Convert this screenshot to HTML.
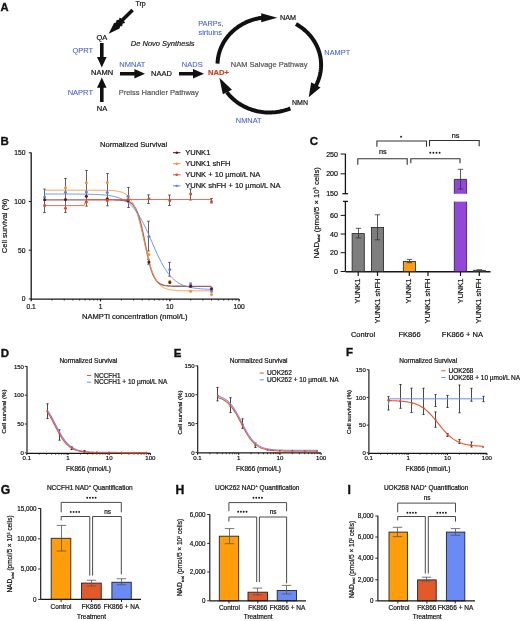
<!DOCTYPE html>
<html><head><meta charset="utf-8"><style>
html,body{margin:0;padding:0;background:#fff;}
svg{display:block;will-change:transform;}
text{font-family:"Liberation Sans", sans-serif;stroke:currentColor;stroke-width:0.2px;}
</style></head><body>
<svg width="520" height="621" viewBox="0 0 520 621">
<rect width="520" height="621" fill="#fff"/>
<text x="0.4" y="10.9" font-size="11.2" fill="#111" color="#111" font-weight="bold" style="stroke-width:0.35px">A</text>
<text x="135.4" y="6.4" font-size="7.0" fill="#111" color="#111">Trp</text>
<polygon points="133.87,11.17 123.97,21.07 125.1,22.91 122.7,23.48 122.21,26.09 120.01,26.45 119.59,28.43 108.63,33.87 114.07,22.91 116.05,22.49 116.41,20.29 119.02,19.8 119.59,17.4 121.43,18.53 131.33,8.63" fill="#111"/>
<text x="96.4" y="39.9" font-size="7.5" fill="#111" color="#111">QA</text>
<text x="72.4" y="52.5" font-size="7.5" fill="#4660c0" color="#4660c0" style="stroke-width:0.06px">QPRT</text>
<polygon points="100,42.9 103.6,42.9 103.6,57 106.6,57 101.8,67.6 97,57 100,57" fill="#111"/>
<text x="91" y="75.1" font-size="7.5" fill="#111" color="#111">NAMN</text>
<polygon points="100,101.9 103.6,101.9 103.6,87.8 106.6,87.8 101.8,77.4 97,87.8 100,87.8" fill="#111"/>
<text x="67.7" y="95.3" font-size="7.5" fill="#4660c0" color="#4660c0" style="stroke-width:0.06px">NAPRT</text>
<text x="96.8" y="110.9" font-size="7.5" fill="#111" color="#111">NA</text>
<polygon points="120,71.9 134.4,71.9 134.4,69 145,73.75 134.4,78.5 134.4,75.6 120,75.6" fill="#111"/>
<text x="119.3" y="66.7" font-size="7.5" fill="#4660c0" color="#4660c0" style="stroke-width:0.06px">NMNAT</text>
<text x="151" y="76.3" font-size="7.5" fill="#111" color="#111">NAAD</text>
<polygon points="179,71.9 193,71.9 193,69 204,73.75 193,78.5 193,75.6 179,75.6" fill="#111"/>
<text x="181.8" y="66.7" font-size="7.5" fill="#4660c0" color="#4660c0" style="stroke-width:0.06px">NADS</text>
<text x="208" y="75.4" font-size="7.6" fill="#d8401e" color="#d8401e" font-weight="bold">NAD+</text>
<text x="130.8" y="45.7" font-size="7.5" fill="#222" color="#222" font-style="italic">De Novo Synthesis</text>
<text x="198.2" y="25.9" font-size="7.4" fill="#4660c0" color="#4660c0" style="stroke-width:0.06px">PARPs,</text>
<text x="198.5" y="35.2" font-size="7.4" fill="#4660c0" color="#4660c0" style="stroke-width:0.06px">sirtuins</text>
<text x="230.8" y="66.9" font-size="7.5" fill="#555" color="#555">NAM Salvage Pathway</text>
<text x="118.7" y="95.4" font-size="7.5" fill="#555" color="#555">Preiss Handler Pathway</text>
<text x="280" y="20.3" font-size="7.2" fill="#111" color="#111">NAM</text>
<text x="324.3" y="55.1" font-size="7.4" fill="#4660c0" color="#4660c0" style="stroke-width:0.06px">NAMPT</text>
<text x="292" y="105.1" font-size="7.0" fill="#111" color="#111">NMN</text>
<text x="235.8" y="122.7" font-size="7.4" fill="#4660c0" color="#4660c0" style="stroke-width:0.06px">NMNAT</text>
<path d="M217.52,63.65 L217.6,61.98 L217.74,60.32 L217.95,58.66 L218.22,57 L218.55,55.36 L218.95,53.73 L219.41,52.11 L219.92,50.51 L220.51,48.92 L221.15,47.36 L221.85,45.81 L222.6,44.3 L223.42,42.8 L224.29,41.33 L225.22,39.9 L226.2,38.49 L227.24,37.12 L228.33,35.77 L229.47,34.47 L230.65,33.2 L231.89,31.98 L233.17,30.79 L234.5,29.64 L235.87,28.54 L237.28,27.49 L238.72,26.48 L240.21,25.51 L241.74,24.6 L243.29,23.73 L244.88,22.92 L246.5,22.16 L248.15,21.45 L249.82,20.79 L251.52,20.19 L253.24,19.65 L254.98,19.16 L256.74,18.72 L258.51,18.34 L260.29,18.02 L262.09,17.76" stroke="#111" stroke-width="4.0" fill="none" stroke-linejoin="round"/>
<polygon points="261.2,13.3 277.3,17.7 261.2,22.3" fill="#111"/>
<path d="M295.98,24.1 L297.63,25.05 L299.23,26.05 L300.8,27.11 L302.32,28.22 L303.79,29.39 L305.22,30.6 L306.59,31.86 L307.92,33.17 L309.18,34.53 L310.4,35.92 L311.55,37.36 L312.64,38.84 L313.68,40.35 L314.65,41.9 L315.56,43.48 L316.4,45.09 L317.17,46.72 L317.88,48.39 L318.52,50.07 L319.09,51.78 L319.59,53.51 L320.02,55.25 L320.38,57 L320.67,58.77 L320.88,60.54 L321.02,62.33 L321.09,64.11 L321.09,65.9 L321.01,67.68 L320.86,69.46 L320.64,71.24 L320.34,73 L319.98,74.76 L319.54,76.5 L319.03,78.22 L318.45,79.92 L317.8,81.61 L317.09,83.27 L316.3,84.9 L315.45,86.51" stroke="#111" stroke-width="4.0" fill="none" stroke-linejoin="round"/>
<polygon points="311.2,82.3 308.7,97.2 320.5,87.5" fill="#111"/>
<path d="M290.37,108.38 L288.73,109.03 L287.06,109.62 L285.37,110.15 L283.66,110.63 L281.94,111.06 L280.2,111.43 L278.45,111.75 L276.69,112.01 L274.92,112.22 L273.14,112.37 L271.36,112.46 L269.57,112.5 L267.79,112.48 L266,112.4 L264.22,112.27 L262.45,112.08 L260.68,111.84 L258.93,111.54 L257.19,111.18 L255.46,110.77 L253.74,110.3 L252.05,109.78 L250.38,109.21 L248.73,108.59 L247.1,107.91 L245.5,107.18 L243.93,106.4 L242.39,105.57 L240.88,104.7 L239.4,103.77 L237.96,102.8 L236.56,101.79 L235.2,100.73 L233.87,99.63 L232.59,98.48 L231.35,97.3 L230.16,96.08 L229.02,94.82 L227.92,93.53 L226.87,92.2" stroke="#111" stroke-width="4.0" fill="none" stroke-linejoin="round"/>
<polygon points="222.8,94.2 219.4,77.7 232,89.8" fill="#111"/>
<text x="0.6" y="145.4" font-size="11.5" fill="#111" color="#111" font-weight="bold" style="stroke-width:0.35px">B</text>
<text x="100" y="147.3" font-size="7.55" fill="#111" color="#111">Normalized Survival</text>
<line x1="31.2" y1="152.5" x2="31.2" y2="298.9" stroke="#161616" stroke-width="1.3"/>
<line x1="28.8" y1="298.9" x2="31.2" y2="298.9" stroke="#161616" stroke-width="1.0"/>
<text x="25.4" y="301.3" font-size="6.7" fill="#111" color="#111" text-anchor="end">0</text>
<line x1="28.8" y1="250.2" x2="31.2" y2="250.2" stroke="#161616" stroke-width="1.0"/>
<text x="25.4" y="252.6" font-size="6.7" fill="#111" color="#111" text-anchor="end">50</text>
<line x1="28.8" y1="201.5" x2="31.2" y2="201.5" stroke="#161616" stroke-width="1.0"/>
<text x="25.4" y="203.9" font-size="6.7" fill="#111" color="#111" text-anchor="end">100</text>
<line x1="28.8" y1="152.8" x2="31.2" y2="152.8" stroke="#161616" stroke-width="1.0"/>
<text x="25.4" y="155.2" font-size="6.7" fill="#111" color="#111" text-anchor="end">150</text>
<line x1="31.2" y1="299.1" x2="239.1" y2="299.1" stroke="#161616" stroke-width="1.3"/>
<line x1="31.2" y1="299.1" x2="31.2" y2="301.3" stroke="#161616" stroke-width="1.3"/>
<line x1="52.06" y1="299.1" x2="52.06" y2="300.5" stroke="#161616" stroke-width="0.9"/>
<line x1="64.26" y1="299.1" x2="64.26" y2="300.5" stroke="#161616" stroke-width="0.9"/>
<line x1="72.92" y1="299.1" x2="72.92" y2="300.5" stroke="#161616" stroke-width="0.9"/>
<line x1="79.64" y1="299.1" x2="79.64" y2="300.5" stroke="#161616" stroke-width="0.9"/>
<line x1="85.13" y1="299.1" x2="85.13" y2="300.5" stroke="#161616" stroke-width="0.9"/>
<line x1="89.77" y1="299.1" x2="89.77" y2="300.5" stroke="#161616" stroke-width="0.9"/>
<line x1="93.78" y1="299.1" x2="93.78" y2="300.5" stroke="#161616" stroke-width="0.9"/>
<line x1="97.33" y1="299.1" x2="97.33" y2="300.5" stroke="#161616" stroke-width="0.9"/>
<line x1="100.5" y1="299.1" x2="100.5" y2="301.3" stroke="#161616" stroke-width="1.3"/>
<line x1="121.36" y1="299.1" x2="121.36" y2="300.5" stroke="#161616" stroke-width="0.9"/>
<line x1="133.56" y1="299.1" x2="133.56" y2="300.5" stroke="#161616" stroke-width="0.9"/>
<line x1="142.22" y1="299.1" x2="142.22" y2="300.5" stroke="#161616" stroke-width="0.9"/>
<line x1="148.94" y1="299.1" x2="148.94" y2="300.5" stroke="#161616" stroke-width="0.9"/>
<line x1="154.43" y1="299.1" x2="154.43" y2="300.5" stroke="#161616" stroke-width="0.9"/>
<line x1="159.07" y1="299.1" x2="159.07" y2="300.5" stroke="#161616" stroke-width="0.9"/>
<line x1="163.08" y1="299.1" x2="163.08" y2="300.5" stroke="#161616" stroke-width="0.9"/>
<line x1="166.63" y1="299.1" x2="166.63" y2="300.5" stroke="#161616" stroke-width="0.9"/>
<line x1="169.8" y1="299.1" x2="169.8" y2="301.3" stroke="#161616" stroke-width="1.3"/>
<line x1="190.66" y1="299.1" x2="190.66" y2="300.5" stroke="#161616" stroke-width="0.9"/>
<line x1="202.86" y1="299.1" x2="202.86" y2="300.5" stroke="#161616" stroke-width="0.9"/>
<line x1="211.52" y1="299.1" x2="211.52" y2="300.5" stroke="#161616" stroke-width="0.9"/>
<line x1="218.24" y1="299.1" x2="218.24" y2="300.5" stroke="#161616" stroke-width="0.9"/>
<line x1="223.73" y1="299.1" x2="223.73" y2="300.5" stroke="#161616" stroke-width="0.9"/>
<line x1="228.37" y1="299.1" x2="228.37" y2="300.5" stroke="#161616" stroke-width="0.9"/>
<line x1="232.38" y1="299.1" x2="232.38" y2="300.5" stroke="#161616" stroke-width="0.9"/>
<line x1="235.93" y1="299.1" x2="235.93" y2="300.5" stroke="#161616" stroke-width="0.9"/>
<line x1="239.1" y1="299.1" x2="239.1" y2="301.3" stroke="#161616" stroke-width="1.3"/>
<text x="31.2" y="308.6" font-size="6.7" fill="#111" color="#111" text-anchor="middle">0.1</text>
<text x="100.5" y="308.6" font-size="6.7" fill="#111" color="#111" text-anchor="middle">1</text>
<text x="169.8" y="308.6" font-size="6.7" fill="#111" color="#111" text-anchor="middle">10</text>
<text x="239.1" y="308.6" font-size="6.7" fill="#111" color="#111" text-anchor="middle">100</text>
<text x="134.8" y="319.2" font-size="7.6" fill="#111" color="#111" text-anchor="middle">NAMPTi concentration (nmol/L)</text>
<text transform="translate(7.2,225.9) rotate(-90)" font-size="7.55" fill="#111" color="#111" text-anchor="middle">Cell survival (%)</text>
<line x1="173" y1="152.7" x2="180.4" y2="152.7" stroke="#5a1414" stroke-width="1.0"/>
<circle cx="176.7" cy="152.7" r="1.2" fill="#5a1414"/>
<text x="185.2" y="155.2" font-size="7.55" fill="#111" color="#111">YUNK1</text>
<line x1="173" y1="163.75" x2="180.4" y2="163.75" stroke="#f39227" stroke-width="1.0"/>
<circle cx="176.7" cy="163.75" r="1.2" fill="#f39227"/>
<text x="185.2" y="166.25" font-size="7.55" fill="#111" color="#111">YUNK1 shFH</text>
<line x1="173" y1="174.8" x2="180.4" y2="174.8" stroke="#e4482a" stroke-width="1.0"/>
<circle cx="176.7" cy="174.8" r="1.2" fill="#e4482a"/>
<text x="185.2" y="177.3" font-size="7.55" fill="#111" color="#111">YUNK + 10 µmol/L NA</text>
<line x1="173" y1="185.85" x2="180.4" y2="185.85" stroke="#5b7ff0" stroke-width="1.0"/>
<circle cx="176.7" cy="185.85" r="1.2" fill="#5b7ff0"/>
<text x="185.2" y="188.35" font-size="7.55" fill="#111" color="#111">YUNK shFH + 10 µmol/L NA</text>
<line x1="44.5" y1="189.1" x2="44.5" y2="212.5" stroke="#3a3a3a" stroke-width="0.8"/>
<line x1="43.2" y1="189.1" x2="45.8" y2="189.1" stroke="#3a3a3a" stroke-width="0.8"/>
<line x1="43.2" y1="212.5" x2="45.8" y2="212.5" stroke="#3a3a3a" stroke-width="0.8"/>
<line x1="65.5" y1="178.5" x2="65.5" y2="212.5" stroke="#3a3a3a" stroke-width="0.8"/>
<line x1="64.2" y1="178.5" x2="66.8" y2="178.5" stroke="#3a3a3a" stroke-width="0.8"/>
<line x1="64.2" y1="212.5" x2="66.8" y2="212.5" stroke="#3a3a3a" stroke-width="0.8"/>
<line x1="86.5" y1="170.5" x2="86.5" y2="206.1" stroke="#3a3a3a" stroke-width="0.8"/>
<line x1="85.2" y1="170.5" x2="87.8" y2="170.5" stroke="#3a3a3a" stroke-width="0.8"/>
<line x1="85.2" y1="206.1" x2="87.8" y2="206.1" stroke="#3a3a3a" stroke-width="0.8"/>
<line x1="107.5" y1="173.5" x2="107.5" y2="205.8" stroke="#3a3a3a" stroke-width="0.8"/>
<line x1="106.2" y1="173.5" x2="108.8" y2="173.5" stroke="#3a3a3a" stroke-width="0.8"/>
<line x1="106.2" y1="205.8" x2="108.8" y2="205.8" stroke="#3a3a3a" stroke-width="0.8"/>
<line x1="128.5" y1="187.5" x2="128.5" y2="207.5" stroke="#3a3a3a" stroke-width="0.8"/>
<line x1="127.2" y1="187.5" x2="129.8" y2="187.5" stroke="#3a3a3a" stroke-width="0.8"/>
<line x1="127.2" y1="207.5" x2="129.8" y2="207.5" stroke="#3a3a3a" stroke-width="0.8"/>
<line x1="148.5" y1="194.8" x2="148.5" y2="203.5" stroke="#3a3a3a" stroke-width="0.8"/>
<line x1="147.2" y1="194.8" x2="149.8" y2="194.8" stroke="#3a3a3a" stroke-width="0.8"/>
<line x1="147.2" y1="203.5" x2="149.8" y2="203.5" stroke="#3a3a3a" stroke-width="0.8"/>
<line x1="169.5" y1="195" x2="169.5" y2="205.5" stroke="#3a3a3a" stroke-width="0.8"/>
<line x1="168.2" y1="195" x2="170.8" y2="195" stroke="#3a3a3a" stroke-width="0.8"/>
<line x1="168.2" y1="205.5" x2="170.8" y2="205.5" stroke="#3a3a3a" stroke-width="0.8"/>
<line x1="190.5" y1="189" x2="190.5" y2="200" stroke="#3a3a3a" stroke-width="0.8"/>
<line x1="189.2" y1="189" x2="191.8" y2="189" stroke="#3a3a3a" stroke-width="0.8"/>
<line x1="189.2" y1="200" x2="191.8" y2="200" stroke="#3a3a3a" stroke-width="0.8"/>
<line x1="211.5" y1="198.5" x2="211.5" y2="203" stroke="#3a3a3a" stroke-width="0.8"/>
<line x1="210.2" y1="198.5" x2="212.8" y2="198.5" stroke="#3a3a3a" stroke-width="0.8"/>
<line x1="210.2" y1="203" x2="212.8" y2="203" stroke="#3a3a3a" stroke-width="0.8"/>
<line x1="148.5" y1="221.2" x2="148.5" y2="251" stroke="#3a3a3a" stroke-width="0.8"/>
<line x1="147.2" y1="221.2" x2="149.8" y2="221.2" stroke="#3a3a3a" stroke-width="0.8"/>
<line x1="147.2" y1="251" x2="149.8" y2="251" stroke="#3a3a3a" stroke-width="0.8"/>
<line x1="148.5" y1="259.4" x2="148.5" y2="264.2" stroke="#3a3a3a" stroke-width="0.8"/>
<line x1="147.2" y1="259.4" x2="149.8" y2="259.4" stroke="#3a3a3a" stroke-width="0.8"/>
<line x1="147.2" y1="264.2" x2="149.8" y2="264.2" stroke="#3a3a3a" stroke-width="0.8"/>
<line x1="169.5" y1="262.3" x2="169.5" y2="276.2" stroke="#3a3a3a" stroke-width="0.8"/>
<line x1="168.2" y1="262.3" x2="170.8" y2="262.3" stroke="#3a3a3a" stroke-width="0.8"/>
<line x1="168.2" y1="276.2" x2="170.8" y2="276.2" stroke="#3a3a3a" stroke-width="0.8"/>
<line x1="190.5" y1="283" x2="190.5" y2="287" stroke="#3a3a3a" stroke-width="0.8"/>
<line x1="189.2" y1="283" x2="191.8" y2="283" stroke="#3a3a3a" stroke-width="0.8"/>
<line x1="189.2" y1="287" x2="191.8" y2="287" stroke="#3a3a3a" stroke-width="0.8"/>
<line x1="211.5" y1="288" x2="211.5" y2="292" stroke="#3a3a3a" stroke-width="0.8"/>
<line x1="210.2" y1="288" x2="212.8" y2="288" stroke="#3a3a3a" stroke-width="0.8"/>
<line x1="210.2" y1="292" x2="212.8" y2="292" stroke="#3a3a3a" stroke-width="0.8"/>
<path d="M44.63,199.84 L46.02,199.84 L47.41,199.84 L48.8,199.84 L50.19,199.84 L51.59,199.84 L52.98,199.84 L54.37,199.84 L55.76,199.84 L57.15,199.84 L58.54,199.84 L59.93,199.84 L61.32,199.84 L62.71,199.84 L64.1,199.84 L65.49,199.84 L66.88,199.84 L68.27,199.84 L69.67,199.84 L71.06,199.84 L72.45,199.84 L73.84,199.84 L75.23,199.84 L76.62,199.84 L78.01,199.84 L79.4,199.84 L80.79,199.84 L82.18,199.84 L83.57,199.84 L84.96,199.84 L86.35,199.84 L87.75,199.84 L89.14,199.84 L90.53,199.84 L91.92,199.84 L93.31,199.84 L94.7,199.84 L96.09,199.85 L97.48,199.85 L98.87,199.85 L100.26,199.85 L101.65,199.85 L103.04,199.85 L104.43,199.85 L105.83,199.85 L107.22,199.86 L108.61,199.86 L110,199.87 L111.39,199.88 L112.78,199.89 L114.17,199.91 L115.56,199.94 L116.95,199.97 L118.34,200.02 L119.73,200.08 L121.12,200.18 L122.51,200.3 L123.9,200.48 L125.3,200.72 L126.69,201.04 L128.08,201.49 L129.47,202.11 L130.86,202.94 L132.25,204.06 L133.64,205.57 L135.03,207.56 L136.42,210.15 L137.81,213.47 L139.2,217.6 L140.59,222.6 L141.98,228.42 L143.38,234.91 L144.77,241.8 L146.16,248.76 L147.55,255.44 L148.94,261.53 L150.33,266.84 L151.72,271.29 L153.11,274.9 L154.5,277.74 L155.89,279.94 L157.28,281.61 L158.67,282.87 L160.06,283.8 L161.46,284.48 L162.85,284.99 L164.24,285.36 L165.63,285.62 L167.02,285.82 L168.41,285.96 L169.8,286.06 L171.19,286.14 L172.58,286.19 L173.97,286.23 L175.36,286.26 L176.75,286.28 L178.14,286.3 L179.54,286.31 L180.93,286.31 L182.32,286.32 L183.71,286.32 L185.1,286.33 L186.49,286.33 L187.88,286.33 L189.27,286.33 L190.66,286.33 L192.05,286.33 L193.44,286.33 L194.83,286.33 L196.22,286.33 L197.62,286.33 L199.01,286.34 L200.4,286.34 L201.79,286.34 L203.18,286.34 L204.57,286.34 L205.96,286.34 L207.35,286.34 L208.74,286.34 L210.13,286.34 L211.52,286.34" stroke="#9c6464" stroke-width="1.4" fill="none" stroke-linejoin="round"/>
<path d="M44.63,190.2 L46.02,190.2 L47.41,190.2 L48.8,190.2 L50.19,190.2 L51.59,190.2 L52.98,190.2 L54.37,190.2 L55.76,190.2 L57.15,190.2 L58.54,190.2 L59.93,190.2 L61.32,190.2 L62.71,190.2 L64.1,190.2 L65.49,190.2 L66.88,190.2 L68.27,190.2 L69.67,190.2 L71.06,190.2 L72.45,190.2 L73.84,190.2 L75.23,190.2 L76.62,190.2 L78.01,190.2 L79.4,190.2 L80.79,190.2 L82.18,190.2 L83.57,190.2 L84.96,190.2 L86.35,190.21 L87.75,190.21 L89.14,190.21 L90.53,190.21 L91.92,190.21 L93.31,190.22 L94.7,190.22 L96.09,190.22 L97.48,190.23 L98.87,190.24 L100.26,190.25 L101.65,190.26 L103.04,190.28 L104.43,190.3 L105.83,190.33 L107.22,190.36 L108.61,190.41 L110,190.46 L111.39,190.54 L112.78,190.63 L114.17,190.74 L115.56,190.89 L116.95,191.08 L118.34,191.32 L119.73,191.62 L121.12,192.01 L122.51,192.5 L123.9,193.11 L125.3,193.88 L126.69,194.85 L128.08,196.06 L129.47,197.55 L130.86,199.4 L132.25,201.64 L133.64,204.35 L135.03,207.58 L136.42,211.37 L137.81,215.72 L139.2,220.63 L140.59,226.03 L141.98,231.82 L143.38,237.86 L144.77,243.98 L146.16,250 L147.55,255.75 L148.94,261.09 L150.33,265.92 L151.72,270.2 L153.11,273.91 L154.5,277.06 L155.89,279.71 L157.28,281.89 L158.67,283.69 L160.06,285.14 L161.46,286.31 L162.85,287.25 L164.24,288 L165.63,288.6 L167.02,289.07 L168.41,289.44 L169.8,289.73 L171.19,289.97 L172.58,290.15 L173.97,290.29 L175.36,290.4 L176.75,290.49 L178.14,290.56 L179.54,290.62 L180.93,290.66 L182.32,290.69 L183.71,290.72 L185.1,290.74 L186.49,290.76 L187.88,290.77 L189.27,290.78 L190.66,290.79 L192.05,290.79 L193.44,290.8 L194.83,290.8 L196.22,290.81 L197.62,290.81 L199.01,290.81 L200.4,290.81 L201.79,290.81 L203.18,290.81 L204.57,290.81 L205.96,290.81 L207.35,290.81 L208.74,290.81 L210.13,290.81 L211.52,290.82" stroke="#f59a3c" stroke-width="0.9" fill="none" stroke-linejoin="round"/>
<path d="M44.63,194 L46.02,194 L47.41,194 L48.8,194 L50.19,194.01 L51.59,194.01 L52.98,194.01 L54.37,194.01 L55.76,194.01 L57.15,194.01 L58.54,194.01 L59.93,194.01 L61.32,194.02 L62.71,194.02 L64.1,194.02 L65.49,194.02 L66.88,194.03 L68.27,194.03 L69.67,194.04 L71.06,194.04 L72.45,194.05 L73.84,194.05 L75.23,194.06 L76.62,194.07 L78.01,194.08 L79.4,194.09 L80.79,194.1 L82.18,194.12 L83.57,194.13 L84.96,194.15 L86.35,194.17 L87.75,194.2 L89.14,194.23 L90.53,194.26 L91.92,194.3 L93.31,194.34 L94.7,194.39 L96.09,194.44 L97.48,194.51 L98.87,194.58 L100.26,194.66 L101.65,194.76 L103.04,194.86 L104.43,194.99 L105.83,195.13 L107.22,195.28 L108.61,195.47 L110,195.67 L111.39,195.91 L112.78,196.18 L114.17,196.48 L115.56,196.82 L116.95,197.22 L118.34,197.66 L119.73,198.16 L121.12,198.73 L122.51,199.37 L123.9,200.09 L125.3,200.9 L126.69,201.81 L128.08,202.82 L129.47,203.96 L130.86,205.22 L132.25,206.61 L133.64,208.15 L135.03,209.85 L136.42,211.7 L137.81,213.72 L139.2,215.9 L140.59,218.24 L141.98,220.74 L143.38,223.4 L144.77,226.2 L146.16,229.12 L147.55,232.15 L148.94,235.26 L150.33,238.42 L151.72,241.62 L153.11,244.82 L154.5,248 L155.89,251.12 L157.28,254.16 L158.67,257.09 L160.06,259.91 L161.46,262.58 L162.85,265.1 L164.24,267.47 L165.63,269.67 L167.02,271.7 L168.41,273.58 L169.8,275.29 L171.19,276.85 L172.58,278.26 L173.97,279.54 L175.36,280.69 L176.75,281.72 L178.14,282.64 L179.54,283.46 L180.93,284.19 L182.32,284.84 L183.71,285.42 L185.1,285.93 L186.49,286.38 L187.88,286.78 L189.27,287.13 L190.66,287.44 L192.05,287.71 L193.44,287.95 L194.83,288.16 L196.22,288.34 L197.62,288.5 L199.01,288.64 L200.4,288.77 L201.79,288.88 L203.18,288.97 L204.57,289.06 L205.96,289.13 L207.35,289.2 L208.74,289.25 L210.13,289.3 L211.52,289.34" stroke="#6488f2" stroke-width="0.9" fill="none" stroke-linejoin="round"/>
<path d="M44.63,205.6 L84,205.6 L86.3,199.5 L211.52,199.5" stroke="#e6553e" stroke-width="0.85" fill="none" stroke-linejoin="round"/>
<circle cx="65.49" cy="187.7" r="1.5" fill="#f39227"/>
<circle cx="86.35" cy="182.8" r="1.5" fill="#f39227"/>
<circle cx="107.22" cy="182.5" r="1.5" fill="#f39227"/>
<circle cx="128.08" cy="199.5" r="1.5" fill="#f39227"/>
<circle cx="148.94" cy="254.6" r="1.5" fill="#f39227"/>
<circle cx="169.8" cy="281.2" r="1.5" fill="#f39227"/>
<circle cx="190.66" cy="291.2" r="1.5" fill="#f39227"/>
<circle cx="211.52" cy="294.6" r="1.5" fill="#f39227"/>
<circle cx="44.63" cy="196.9" r="1.5" fill="#5b7ff0"/>
<circle cx="65.49" cy="192.3" r="1.5" fill="#5b7ff0"/>
<circle cx="86.35" cy="192.1" r="1.5" fill="#5b7ff0"/>
<circle cx="107.22" cy="192.5" r="1.5" fill="#5b7ff0"/>
<circle cx="128.08" cy="196.3" r="1.5" fill="#5b7ff0"/>
<circle cx="148.94" cy="236.5" r="1.5" fill="#5b7ff0"/>
<circle cx="169.8" cy="269.6" r="1.5" fill="#5b7ff0"/>
<circle cx="190.66" cy="284.4" r="1.5" fill="#5b7ff0"/>
<circle cx="211.52" cy="290.8" r="1.5" fill="#5b7ff0"/>
<circle cx="44.63" cy="199.8" r="1.5" fill="#5a1414"/>
<circle cx="65.49" cy="199.5" r="1.5" fill="#5a1414"/>
<circle cx="86.35" cy="196.3" r="1.5" fill="#5a1414"/>
<circle cx="107.22" cy="198.8" r="1.5" fill="#5a1414"/>
<circle cx="128.08" cy="200.5" r="1.5" fill="#5a1414"/>
<circle cx="148.94" cy="261.9" r="1.5" fill="#5a1414"/>
<circle cx="169.8" cy="282.5" r="1.5" fill="#5a1414"/>
<circle cx="190.66" cy="286.3" r="1.5" fill="#5a1414"/>
<circle cx="211.52" cy="288.8" r="1.5" fill="#5a1414"/>
<circle cx="44.63" cy="205.6" r="1.5" fill="#e4482a"/>
<circle cx="65.49" cy="208.2" r="1.5" fill="#e4482a"/>
<circle cx="86.35" cy="202.1" r="1.5" fill="#e4482a"/>
<circle cx="107.22" cy="200.6" r="1.5" fill="#e4482a"/>
<circle cx="128.08" cy="199.4" r="1.5" fill="#e4482a"/>
<circle cx="148.94" cy="198.8" r="1.5" fill="#e4482a"/>
<circle cx="169.8" cy="200.4" r="1.5" fill="#e4482a"/>
<circle cx="190.66" cy="194" r="1.5" fill="#e4482a"/>
<circle cx="211.52" cy="201.5" r="1.5" fill="#e4482a"/>
<text x="309.8" y="145.4" font-size="11.5" fill="#111" color="#111" font-weight="bold" style="stroke-width:0.35px">C</text>
<line x1="345.4" y1="154" x2="345.4" y2="193.6" stroke="#161616" stroke-width="1.3"/>
<line x1="342.4" y1="193.7" x2="348.1" y2="193.7" stroke="#161616" stroke-width="1.3"/>
<line x1="340.6" y1="154" x2="345.6" y2="154" stroke="#161616" stroke-width="1.0"/>
<text x="338" y="156.5" font-size="7.1" fill="#111" color="#111" text-anchor="end">250</text>
<line x1="340.6" y1="173.8" x2="345.6" y2="173.8" stroke="#161616" stroke-width="1.0"/>
<text x="338" y="176.3" font-size="7.1" fill="#111" color="#111" text-anchor="end">200</text>
<text x="338" y="195.6" font-size="7.1" fill="#111" color="#111" text-anchor="end">150</text>
<line x1="345.4" y1="201.4" x2="345.4" y2="271.5" stroke="#161616" stroke-width="1.3"/>
<line x1="343" y1="201.4" x2="348" y2="201.4" stroke="#161616" stroke-width="1.3"/>
<line x1="340.6" y1="215.4" x2="345.6" y2="215.4" stroke="#161616" stroke-width="1.0"/>
<text x="338" y="217.9" font-size="7.1" fill="#111" color="#111" text-anchor="end">60</text>
<line x1="340.6" y1="234" x2="345.6" y2="234" stroke="#161616" stroke-width="1.0"/>
<text x="338" y="236.5" font-size="7.1" fill="#111" color="#111" text-anchor="end">40</text>
<line x1="340.6" y1="252.7" x2="345.6" y2="252.7" stroke="#161616" stroke-width="1.0"/>
<text x="338" y="255.2" font-size="7.1" fill="#111" color="#111" text-anchor="end">20</text>
<line x1="340.6" y1="271.5" x2="345.6" y2="271.5" stroke="#161616" stroke-width="1.0"/>
<text x="338" y="274" font-size="7.1" fill="#111" color="#111" text-anchor="end">0</text>
<line x1="345.6" y1="271.7" x2="490.5" y2="271.7" stroke="#161616" stroke-width="1.4"/>
<line x1="358.2" y1="271.5" x2="358.2" y2="276" stroke="#161616" stroke-width="1.2"/>
<line x1="377.5" y1="271.5" x2="377.5" y2="276" stroke="#161616" stroke-width="1.2"/>
<line x1="409.3" y1="271.5" x2="409.3" y2="276" stroke="#161616" stroke-width="1.2"/>
<line x1="428" y1="271.5" x2="428" y2="276" stroke="#161616" stroke-width="1.2"/>
<line x1="460.5" y1="271.5" x2="460.5" y2="276" stroke="#161616" stroke-width="1.2"/>
<line x1="479.3" y1="271.5" x2="479.3" y2="276" stroke="#161616" stroke-width="1.2"/>
<rect x="352.1" y="233.6" width="12.2" height="37.9" fill="#7e7e7e" stroke="#222" stroke-width="0.8"/>
<rect x="371.4" y="227.4" width="12.2" height="44.1" fill="#7e7e7e" stroke="#222" stroke-width="0.8"/>
<rect x="403.3" y="261.4" width="12.1" height="10.1" fill="#fa9c14" stroke="#222" stroke-width="0.8"/>
<rect x="454.3" y="179.4" width="12.3" height="14.4" fill="#9247d8"/>
<path d="M454.3,193.8 L454.3,179.4 L466.6,179.4 L466.6,193.8" stroke="#222" stroke-width="0.8" fill="none" stroke-linejoin="miter"/>
<rect x="454.3" y="201.6" width="12.3" height="69.9" fill="#9247d8"/>
<path d="M454.3,201.6 L454.3,271.5 L466.6,271.5 L466.6,201.6" stroke="#222" stroke-width="0.8" fill="none" stroke-linejoin="miter"/>
<rect x="473.2" y="270.2" width="12.2" height="1.3" fill="#444" stroke="#333" stroke-width="0.6"/>
<line x1="358.5" y1="228.3" x2="358.5" y2="237.9" stroke="#333" stroke-width="0.8"/>
<line x1="355.8" y1="228.3" x2="361.2" y2="228.3" stroke="#333" stroke-width="0.8"/>
<line x1="355.8" y1="237.9" x2="361.2" y2="237.9" stroke="#333" stroke-width="0.8"/>
<line x1="377.5" y1="214.8" x2="377.5" y2="239.8" stroke="#333" stroke-width="0.8"/>
<line x1="374.8" y1="214.8" x2="380.2" y2="214.8" stroke="#333" stroke-width="0.8"/>
<line x1="374.8" y1="239.8" x2="380.2" y2="239.8" stroke="#333" stroke-width="0.8"/>
<line x1="409.5" y1="259.4" x2="409.5" y2="262.7" stroke="#333" stroke-width="0.8"/>
<line x1="406.8" y1="259.4" x2="412.2" y2="259.4" stroke="#333" stroke-width="0.8"/>
<line x1="406.8" y1="262.7" x2="412.2" y2="262.7" stroke="#333" stroke-width="0.8"/>
<line x1="460.5" y1="169.3" x2="460.5" y2="189" stroke="#333" stroke-width="0.8"/>
<line x1="457.8" y1="169.3" x2="463.2" y2="169.3" stroke="#333" stroke-width="0.8"/>
<line x1="457.8" y1="189" x2="463.2" y2="189" stroke="#333" stroke-width="0.8"/>
<line x1="476.5" y1="269.7" x2="482" y2="269.7" stroke="#333" stroke-width="0.8"/>
<path d="M357.8,164.7 L357.8,158.7 L407.2,158.7 L407.2,164.7" stroke="#333333" stroke-width="1.1" fill="none" stroke-linejoin="miter"/>
<path d="M410.8,163.2 L410.8,158.8 L460,158.8 L460,163.2" stroke="#333333" stroke-width="1.1" fill="none" stroke-linejoin="miter"/>
<path d="M376.9,146.8 L376.9,141 L426.5,141 L426.5,146.8" stroke="#333333" stroke-width="1.1" fill="none" stroke-linejoin="miter"/>
<path d="M429.5,146.2 L429.5,140.5 L479.2,140.5 L479.2,146.2" stroke="#333333" stroke-width="1.1" fill="none" stroke-linejoin="miter"/>
<text x="382.8" y="154.3" font-size="7.3" fill="#111" color="#111" text-anchor="middle">ns</text>
<circle cx="430.3" cy="152.7" r="0.95" fill="#1a1a1a"/>
<circle cx="433.4" cy="152.7" r="0.95" fill="#1a1a1a"/>
<circle cx="436.5" cy="152.7" r="0.95" fill="#1a1a1a"/>
<circle cx="439.6" cy="152.7" r="0.95" fill="#1a1a1a"/>
<circle cx="401.1" cy="136.7" r="0.95" fill="#1a1a1a"/>
<text x="455.6" y="137.8" font-size="7.3" fill="#111" color="#111" text-anchor="middle">ns</text>
<text transform="translate(360.2,278.6) rotate(-90)" font-size="7.5" fill="#111" color="#111" text-anchor="end">YUNK1</text>
<text transform="translate(379.6,278.6) rotate(-90)" font-size="7.5" fill="#111" color="#111" text-anchor="end">YUNK1 shFH</text>
<text transform="translate(411.3,278.6) rotate(-90)" font-size="7.5" fill="#111" color="#111" text-anchor="end">YUNK1</text>
<text transform="translate(430.1,278.6) rotate(-90)" font-size="7.5" fill="#111" color="#111" text-anchor="end">YUNK1 shFH</text>
<text transform="translate(462.6,278.6) rotate(-90)" font-size="7.5" fill="#111" color="#111" text-anchor="end">YUNK1</text>
<text transform="translate(481.4,278.6) rotate(-90)" font-size="7.5" fill="#111" color="#111" text-anchor="end">YUNK1 shFH</text>
<text x="363" y="336.6" font-size="7.5" fill="#111" color="#111" text-anchor="middle">Control</text>
<text x="409.6" y="337" font-size="7.5" fill="#111" color="#111" text-anchor="middle">FK866</text>
<text x="462.4" y="337" font-size="7.5" fill="#111" color="#111" text-anchor="middle">FK866 + NA</text>
<text transform="translate(318.8,212.7) rotate(-90)" font-size="7.7" fill="#111" color="#111" text-anchor="middle">NAD<tspan font-size="4" dy="1.6">total</tspan><tspan dy="-1.6"> (pmol/5 × 10</tspan><tspan font-size="4" dy="-2.6">5</tspan><tspan dy="2.6"> cells)</tspan></text>
<text x="0.8" y="357.2" font-size="11.5" fill="#111" color="#111" font-weight="bold" style="stroke-width:0.35px">D</text>
<text x="59.4" y="363" font-size="6.5" fill="#111" color="#111">Normalized Survival</text>
<line x1="27" y1="366.1" x2="27" y2="452.8" stroke="#161616" stroke-width="1.15"/>
<line x1="24.8" y1="452.8" x2="26.8" y2="452.8" stroke="#161616" stroke-width="0.9"/>
<text x="23.9" y="454.9" font-size="6.0" fill="#111" color="#111" text-anchor="end">0</text>
<line x1="24.8" y1="424" x2="26.8" y2="424" stroke="#161616" stroke-width="0.9"/>
<text x="23.9" y="426.1" font-size="6.0" fill="#111" color="#111" text-anchor="end">50</text>
<line x1="24.8" y1="395.2" x2="26.8" y2="395.2" stroke="#161616" stroke-width="0.9"/>
<text x="23.9" y="397.3" font-size="6.0" fill="#111" color="#111" text-anchor="end">100</text>
<line x1="24.8" y1="366.4" x2="26.8" y2="366.4" stroke="#161616" stroke-width="0.9"/>
<text x="23.9" y="368.5" font-size="6.0" fill="#111" color="#111" text-anchor="end">150</text>
<line x1="26.8" y1="453.3" x2="150.4" y2="453.3" stroke="#161616" stroke-width="1.15"/>
<line x1="26.8" y1="453.3" x2="26.8" y2="455.1" stroke="#161616" stroke-width="1.15"/>
<line x1="39.2" y1="453.3" x2="39.2" y2="454.6" stroke="#161616" stroke-width="0.9"/>
<line x1="46.46" y1="453.3" x2="46.46" y2="454.6" stroke="#161616" stroke-width="0.9"/>
<line x1="51.6" y1="453.3" x2="51.6" y2="454.6" stroke="#161616" stroke-width="0.9"/>
<line x1="55.6" y1="453.3" x2="55.6" y2="454.6" stroke="#161616" stroke-width="0.9"/>
<line x1="58.86" y1="453.3" x2="58.86" y2="454.6" stroke="#161616" stroke-width="0.9"/>
<line x1="61.62" y1="453.3" x2="61.62" y2="454.6" stroke="#161616" stroke-width="0.9"/>
<line x1="64.01" y1="453.3" x2="64.01" y2="454.6" stroke="#161616" stroke-width="0.9"/>
<line x1="66.11" y1="453.3" x2="66.11" y2="454.6" stroke="#161616" stroke-width="0.9"/>
<line x1="68" y1="453.3" x2="68" y2="455.1" stroke="#161616" stroke-width="1.15"/>
<line x1="80.4" y1="453.3" x2="80.4" y2="454.6" stroke="#161616" stroke-width="0.9"/>
<line x1="87.66" y1="453.3" x2="87.66" y2="454.6" stroke="#161616" stroke-width="0.9"/>
<line x1="92.8" y1="453.3" x2="92.8" y2="454.6" stroke="#161616" stroke-width="0.9"/>
<line x1="96.8" y1="453.3" x2="96.8" y2="454.6" stroke="#161616" stroke-width="0.9"/>
<line x1="100.06" y1="453.3" x2="100.06" y2="454.6" stroke="#161616" stroke-width="0.9"/>
<line x1="102.82" y1="453.3" x2="102.82" y2="454.6" stroke="#161616" stroke-width="0.9"/>
<line x1="105.21" y1="453.3" x2="105.21" y2="454.6" stroke="#161616" stroke-width="0.9"/>
<line x1="107.31" y1="453.3" x2="107.31" y2="454.6" stroke="#161616" stroke-width="0.9"/>
<line x1="109.2" y1="453.3" x2="109.2" y2="455.1" stroke="#161616" stroke-width="1.15"/>
<line x1="121.6" y1="453.3" x2="121.6" y2="454.6" stroke="#161616" stroke-width="0.9"/>
<line x1="128.86" y1="453.3" x2="128.86" y2="454.6" stroke="#161616" stroke-width="0.9"/>
<line x1="134" y1="453.3" x2="134" y2="454.6" stroke="#161616" stroke-width="0.9"/>
<line x1="138" y1="453.3" x2="138" y2="454.6" stroke="#161616" stroke-width="0.9"/>
<line x1="141.26" y1="453.3" x2="141.26" y2="454.6" stroke="#161616" stroke-width="0.9"/>
<line x1="144.02" y1="453.3" x2="144.02" y2="454.6" stroke="#161616" stroke-width="0.9"/>
<line x1="146.41" y1="453.3" x2="146.41" y2="454.6" stroke="#161616" stroke-width="0.9"/>
<line x1="148.51" y1="453.3" x2="148.51" y2="454.6" stroke="#161616" stroke-width="0.9"/>
<line x1="150.4" y1="453.3" x2="150.4" y2="455.1" stroke="#161616" stroke-width="1.15"/>
<text x="26.8" y="460.1" font-size="6.1" fill="#111" color="#111" text-anchor="middle">0.1</text>
<text x="68" y="460.1" font-size="6.1" fill="#111" color="#111" text-anchor="middle">1</text>
<text x="109.2" y="460.1" font-size="6.1" fill="#111" color="#111" text-anchor="middle">10</text>
<text x="150.4" y="460.1" font-size="6.1" fill="#111" color="#111" text-anchor="middle">100</text>
<text x="88.5" y="471.4" font-size="6.5" fill="#111" color="#111" text-anchor="middle">FK866 (nmol/L)</text>
<text transform="translate(6.2,411.5) rotate(-90)" font-size="6.1" fill="#111" color="#111" text-anchor="middle">Cell survival (%)</text>
<line x1="87" y1="375.5" x2="91.2" y2="375.5" stroke="#e8552a" stroke-width="1.0"/>
<text x="94.2" y="377.7" font-size="6.5" fill="#111" color="#111">NCCFH1</text>
<line x1="87" y1="382.2" x2="91.2" y2="382.2" stroke="#6a8ef5" stroke-width="1.0"/>
<text x="94.2" y="384.4" font-size="6.5" fill="#111" color="#111">NCCFH1 + 10 µmol/L NA</text>
<line x1="47.5" y1="403.8" x2="47.5" y2="418.5" stroke="#1a1a1a" stroke-width="0.8"/>
<line x1="46.4" y1="403.8" x2="48.6" y2="403.8" stroke="#1a1a1a" stroke-width="0.8"/>
<line x1="46.4" y1="418.5" x2="48.6" y2="418.5" stroke="#1a1a1a" stroke-width="0.8"/>
<line x1="59.5" y1="429.8" x2="59.5" y2="440.2" stroke="#1a1a1a" stroke-width="0.8"/>
<line x1="58.4" y1="429.8" x2="60.6" y2="429.8" stroke="#1a1a1a" stroke-width="0.8"/>
<line x1="58.4" y1="440.2" x2="60.6" y2="440.2" stroke="#1a1a1a" stroke-width="0.8"/>
<line x1="71.5" y1="446.5" x2="71.5" y2="449.5" stroke="#1a1a1a" stroke-width="0.8"/>
<line x1="70.4" y1="446.5" x2="72.6" y2="446.5" stroke="#1a1a1a" stroke-width="0.8"/>
<line x1="70.4" y1="449.5" x2="72.6" y2="449.5" stroke="#1a1a1a" stroke-width="0.8"/>
<line x1="84.5" y1="450.5" x2="84.5" y2="452.3" stroke="#1a1a1a" stroke-width="0.8"/>
<line x1="83.4" y1="450.5" x2="85.6" y2="450.5" stroke="#1a1a1a" stroke-width="0.8"/>
<line x1="83.4" y1="452.3" x2="85.6" y2="452.3" stroke="#1a1a1a" stroke-width="0.8"/>
<path d="M47.19,410.03 L48.01,411.22 L48.84,412.48 L49.67,413.81 L50.5,415.19 L51.32,416.64 L52.15,418.13 L52.98,419.66 L53.8,421.23 L54.63,422.82 L55.46,424.42 L56.28,426.02 L57.11,427.61 L57.94,429.19 L58.76,430.73 L59.59,432.24 L60.42,433.7 L61.24,435.11 L62.07,436.45 L62.9,437.74 L63.72,438.95 L64.55,440.1 L65.38,441.17 L66.2,442.18 L67.03,443.11 L67.86,443.97 L68.69,444.77 L69.51,445.5 L70.34,446.18 L71.17,446.79 L71.99,447.35 L72.82,447.86 L73.65,448.33 L74.47,448.75 L75.3,449.13 L76.13,449.47 L76.95,449.78 L77.78,450.06 L78.61,450.31 L79.43,450.54 L80.26,450.74 L81.09,450.92 L81.91,451.08 L82.74,451.23 L83.57,451.36 L84.4,451.48 L85.22,451.58 L86.05,451.68 L86.88,451.76 L87.7,451.84 L88.53,451.9 L89.36,451.96 L90.18,452.02 L91.01,452.06 L91.84,452.11 L92.66,452.14 L93.49,452.18 L94.32,452.21 L95.14,452.23 L95.97,452.26 L96.8,452.28 L97.62,452.3 L98.45,452.32 L99.28,452.33 L100.1,452.34 L100.93,452.36 L101.76,452.37 L102.59,452.38 L103.41,452.38 L104.24,452.39 L105.07,452.4 L105.89,452.41 L106.72,452.41 L107.55,452.42 L108.37,452.42 L109.2,452.42 L110.03,452.43 L110.85,452.43 L111.68,452.43 L112.51,452.43 L113.33,452.44 L114.16,452.44 L114.99,452.44 L115.81,452.44 L116.64,452.44 L117.47,452.44 L118.3,452.45 L119.12,452.45 L119.95,452.45 L120.78,452.45 L121.6,452.45 L122.43,452.45 L123.26,452.45 L124.08,452.45 L124.91,452.45 L125.74,452.45 L126.56,452.45 L127.39,452.45 L128.22,452.45 L129.04,452.45 L129.87,452.45 L130.7,452.45 L131.52,452.45 L132.35,452.45 L133.18,452.45 L134,452.45 L134.83,452.45 L135.66,452.45 L136.49,452.45 L137.31,452.45 L138.14,452.45 L138.97,452.45 L139.79,452.45 L140.62,452.45 L141.45,452.45 L142.27,452.45 L143.1,452.45 L143.93,452.45 L144.75,452.45 L145.58,452.45 L146.41,452.45" stroke="#6a8ef5" stroke-width="1.15" fill="none" stroke-linejoin="round"/>
<path d="M47.19,411.8 L48.01,413.05 L48.84,414.36 L49.67,415.74 L50.5,417.18 L51.32,418.67 L52.15,420.21 L52.98,421.77 L53.8,423.37 L54.63,424.98 L55.46,426.59 L56.28,428.19 L57.11,429.78 L57.94,431.33 L58.76,432.85 L59.59,434.32 L60.42,435.73 L61.24,437.08 L62.07,438.37 L62.9,439.58 L63.72,440.73 L64.55,441.8 L65.38,442.8 L66.2,443.73 L67.03,444.59 L67.86,445.37 L68.69,446.1 L69.51,446.76 L70.34,447.37 L71.17,447.92 L71.99,448.42 L72.82,448.87 L73.65,449.28 L74.47,449.65 L75.3,449.98 L76.13,450.28 L76.95,450.55 L77.78,450.79 L78.61,451 L79.43,451.2 L80.26,451.37 L81.09,451.53 L81.91,451.67 L82.74,451.79 L83.57,451.9 L84.4,452 L85.22,452.09 L86.05,452.16 L86.88,452.23 L87.7,452.3 L88.53,452.35 L89.36,452.4 L90.18,452.45 L91.01,452.48 L91.84,452.52 L92.66,452.55 L93.49,452.58 L94.32,452.6 L95.14,452.62 L95.97,452.64 L96.8,452.66 L97.62,452.68 L98.45,452.69 L99.28,452.7 L100.1,452.71 L100.93,452.72 L101.76,452.73 L102.59,452.74 L103.41,452.75 L104.24,452.75 L105.07,452.76 L105.89,452.76 L106.72,452.77 L107.55,452.77 L108.37,452.77 L109.2,452.78 L110.03,452.78 L110.85,452.78 L111.68,452.78 L112.51,452.79 L113.33,452.79 L114.16,452.79 L114.99,452.79 L115.81,452.79 L116.64,452.79 L117.47,452.79 L118.3,452.79 L119.12,452.79 L119.95,452.79 L120.78,452.8 L121.6,452.8 L122.43,452.8 L123.26,452.8 L124.08,452.8 L124.91,452.8 L125.74,452.8 L126.56,452.8 L127.39,452.8 L128.22,452.8 L129.04,452.8 L129.87,452.8 L130.7,452.8 L131.52,452.8 L132.35,452.8 L133.18,452.8 L134,452.8 L134.83,452.8 L135.66,452.8 L136.49,452.8 L137.31,452.8 L138.14,452.8 L138.97,452.8 L139.79,452.8 L140.62,452.8 L141.45,452.8 L142.27,452.8 L143.1,452.8 L143.93,452.8 L144.75,452.8 L145.58,452.8 L146.41,452.8" stroke="#e8552a" stroke-width="1.15" fill="none" stroke-linejoin="round"/>
<circle cx="47.19" cy="411.33" r="1.0" fill="#d9492a"/>
<circle cx="59.59" cy="433.79" r="1.0" fill="#d9492a"/>
<circle cx="71.99" cy="448.02" r="1.0" fill="#d9492a"/>
<circle cx="84.4" cy="451.42" r="1.0" fill="#d9492a"/>
<circle cx="96.8" cy="452.22" r="1.0" fill="#d9492a"/>
<circle cx="109.2" cy="452.51" r="1.0" fill="#d9492a"/>
<circle cx="121.6" cy="452.57" r="1.0" fill="#d9492a"/>
<circle cx="134" cy="452.63" r="1.0" fill="#d9492a"/>
<circle cx="146.41" cy="452.63" r="1.0" fill="#d9492a"/>
<text x="173.8" y="357.3" font-size="11.5" fill="#111" color="#111" font-weight="bold" style="stroke-width:0.35px">E</text>
<text x="229.7" y="362.6" font-size="6.5" fill="#111" color="#111">Normalized Survival</text>
<line x1="197.7" y1="365.55" x2="197.7" y2="452.4" stroke="#161616" stroke-width="1.15"/>
<line x1="195.5" y1="452.4" x2="197.5" y2="452.4" stroke="#161616" stroke-width="0.9"/>
<text x="194.6" y="454.5" font-size="6.0" fill="#111" color="#111" text-anchor="end">0</text>
<line x1="195.5" y1="423.55" x2="197.5" y2="423.55" stroke="#161616" stroke-width="0.9"/>
<text x="194.6" y="425.65" font-size="6.0" fill="#111" color="#111" text-anchor="end">50</text>
<line x1="195.5" y1="394.7" x2="197.5" y2="394.7" stroke="#161616" stroke-width="0.9"/>
<text x="194.6" y="396.8" font-size="6.0" fill="#111" color="#111" text-anchor="end">100</text>
<line x1="195.5" y1="365.85" x2="197.5" y2="365.85" stroke="#161616" stroke-width="0.9"/>
<text x="194.6" y="367.95" font-size="6.0" fill="#111" color="#111" text-anchor="end">150</text>
<line x1="197.5" y1="452.9" x2="321.1" y2="452.9" stroke="#161616" stroke-width="1.15"/>
<line x1="197.5" y1="452.9" x2="197.5" y2="454.7" stroke="#161616" stroke-width="1.15"/>
<line x1="209.9" y1="452.9" x2="209.9" y2="454.2" stroke="#161616" stroke-width="0.9"/>
<line x1="217.16" y1="452.9" x2="217.16" y2="454.2" stroke="#161616" stroke-width="0.9"/>
<line x1="222.3" y1="452.9" x2="222.3" y2="454.2" stroke="#161616" stroke-width="0.9"/>
<line x1="226.3" y1="452.9" x2="226.3" y2="454.2" stroke="#161616" stroke-width="0.9"/>
<line x1="229.56" y1="452.9" x2="229.56" y2="454.2" stroke="#161616" stroke-width="0.9"/>
<line x1="232.32" y1="452.9" x2="232.32" y2="454.2" stroke="#161616" stroke-width="0.9"/>
<line x1="234.71" y1="452.9" x2="234.71" y2="454.2" stroke="#161616" stroke-width="0.9"/>
<line x1="236.81" y1="452.9" x2="236.81" y2="454.2" stroke="#161616" stroke-width="0.9"/>
<line x1="238.7" y1="452.9" x2="238.7" y2="454.7" stroke="#161616" stroke-width="1.15"/>
<line x1="251.1" y1="452.9" x2="251.1" y2="454.2" stroke="#161616" stroke-width="0.9"/>
<line x1="258.36" y1="452.9" x2="258.36" y2="454.2" stroke="#161616" stroke-width="0.9"/>
<line x1="263.5" y1="452.9" x2="263.5" y2="454.2" stroke="#161616" stroke-width="0.9"/>
<line x1="267.5" y1="452.9" x2="267.5" y2="454.2" stroke="#161616" stroke-width="0.9"/>
<line x1="270.76" y1="452.9" x2="270.76" y2="454.2" stroke="#161616" stroke-width="0.9"/>
<line x1="273.52" y1="452.9" x2="273.52" y2="454.2" stroke="#161616" stroke-width="0.9"/>
<line x1="275.91" y1="452.9" x2="275.91" y2="454.2" stroke="#161616" stroke-width="0.9"/>
<line x1="278.01" y1="452.9" x2="278.01" y2="454.2" stroke="#161616" stroke-width="0.9"/>
<line x1="279.9" y1="452.9" x2="279.9" y2="454.7" stroke="#161616" stroke-width="1.15"/>
<line x1="292.3" y1="452.9" x2="292.3" y2="454.2" stroke="#161616" stroke-width="0.9"/>
<line x1="299.56" y1="452.9" x2="299.56" y2="454.2" stroke="#161616" stroke-width="0.9"/>
<line x1="304.7" y1="452.9" x2="304.7" y2="454.2" stroke="#161616" stroke-width="0.9"/>
<line x1="308.7" y1="452.9" x2="308.7" y2="454.2" stroke="#161616" stroke-width="0.9"/>
<line x1="311.96" y1="452.9" x2="311.96" y2="454.2" stroke="#161616" stroke-width="0.9"/>
<line x1="314.72" y1="452.9" x2="314.72" y2="454.2" stroke="#161616" stroke-width="0.9"/>
<line x1="317.11" y1="452.9" x2="317.11" y2="454.2" stroke="#161616" stroke-width="0.9"/>
<line x1="319.21" y1="452.9" x2="319.21" y2="454.2" stroke="#161616" stroke-width="0.9"/>
<line x1="321.1" y1="452.9" x2="321.1" y2="454.7" stroke="#161616" stroke-width="1.15"/>
<text x="197.5" y="459.7" font-size="6.1" fill="#111" color="#111" text-anchor="middle">0.1</text>
<text x="238.7" y="459.7" font-size="6.1" fill="#111" color="#111" text-anchor="middle">1</text>
<text x="279.9" y="459.7" font-size="6.1" fill="#111" color="#111" text-anchor="middle">10</text>
<text x="321.1" y="459.7" font-size="6.1" fill="#111" color="#111" text-anchor="middle">100</text>
<text x="258.5" y="470.5" font-size="6.5" fill="#111" color="#111" text-anchor="middle">FK866 (nmol/L)</text>
<text transform="translate(182.4,412.5) rotate(-90)" font-size="6.1" fill="#111" color="#111" text-anchor="middle">Cell survival (%)</text>
<line x1="259.7" y1="373.1" x2="263.9" y2="373.1" stroke="#e8552a" stroke-width="1.0"/>
<text x="266.9" y="375.3" font-size="6.5" fill="#111" color="#111">UOK262</text>
<line x1="259.7" y1="379.8" x2="263.9" y2="379.8" stroke="#6a8ef5" stroke-width="1.0"/>
<text x="266.9" y="382" font-size="6.5" fill="#111" color="#111">UOK262 + 10 µmol/L NA</text>
<line x1="217.5" y1="387.5" x2="217.5" y2="400.9" stroke="#1a1a1a" stroke-width="0.8"/>
<line x1="216.4" y1="387.5" x2="218.6" y2="387.5" stroke="#1a1a1a" stroke-width="0.8"/>
<line x1="216.4" y1="400.9" x2="218.6" y2="400.9" stroke="#1a1a1a" stroke-width="0.8"/>
<line x1="230.5" y1="397.7" x2="230.5" y2="412.5" stroke="#1a1a1a" stroke-width="0.8"/>
<line x1="229.4" y1="397.7" x2="231.6" y2="397.7" stroke="#1a1a1a" stroke-width="0.8"/>
<line x1="229.4" y1="412.5" x2="231.6" y2="412.5" stroke="#1a1a1a" stroke-width="0.8"/>
<line x1="242.5" y1="418.8" x2="242.5" y2="428.3" stroke="#1a1a1a" stroke-width="0.8"/>
<line x1="241.4" y1="418.8" x2="243.6" y2="418.8" stroke="#1a1a1a" stroke-width="0.8"/>
<line x1="241.4" y1="428.3" x2="243.6" y2="428.3" stroke="#1a1a1a" stroke-width="0.8"/>
<line x1="255.5" y1="443" x2="255.5" y2="447.5" stroke="#1a1a1a" stroke-width="0.8"/>
<line x1="254.4" y1="443" x2="256.6" y2="443" stroke="#1a1a1a" stroke-width="0.8"/>
<line x1="254.4" y1="447.5" x2="256.6" y2="447.5" stroke="#1a1a1a" stroke-width="0.8"/>
<path d="M217.89,396.08 L218.71,396.31 L219.54,396.57 L220.37,396.85 L221.2,397.17 L222.02,397.52 L222.85,397.91 L223.68,398.34 L224.5,398.81 L225.33,399.33 L226.16,399.9 L226.98,400.53 L227.81,401.21 L228.64,401.96 L229.46,402.77 L230.29,403.65 L231.12,404.6 L231.94,405.62 L232.77,406.71 L233.6,407.88 L234.42,409.11 L235.25,410.42 L236.08,411.79 L236.9,413.21 L237.73,414.7 L238.56,416.23 L239.39,417.79 L240.21,419.39 L241.04,421 L241.87,422.62 L242.69,424.24 L243.52,425.85 L244.35,427.43 L245.17,428.98 L246,430.49 L246.83,431.94 L247.65,433.34 L248.48,434.68 L249.31,435.95 L250.13,437.15 L250.96,438.28 L251.79,439.34 L252.61,440.32 L253.44,441.24 L254.27,442.08 L255.1,442.86 L255.92,443.58 L256.75,444.24 L257.58,444.83 L258.4,445.38 L259.23,445.88 L260.06,446.33 L260.88,446.74 L261.71,447.1 L262.54,447.44 L263.36,447.74 L264.19,448.01 L265.02,448.25 L265.84,448.47 L266.67,448.67 L267.5,448.84 L268.32,449 L269.15,449.14 L269.98,449.27 L270.8,449.38 L271.63,449.48 L272.46,449.57 L273.29,449.65 L274.11,449.73 L274.94,449.79 L275.77,449.85 L276.59,449.9 L277.42,449.95 L278.25,449.99 L279.07,450.02 L279.9,450.06 L280.73,450.08 L281.55,450.11 L282.38,450.13 L283.21,450.15 L284.03,450.17 L284.86,450.19 L285.69,450.2 L286.51,450.22 L287.34,450.23 L288.17,450.24 L289,450.25 L289.82,450.26 L290.65,450.26 L291.48,450.27 L292.3,450.28 L293.13,450.28 L293.96,450.29 L294.78,450.29 L295.61,450.29 L296.44,450.3 L297.26,450.3 L298.09,450.3 L298.92,450.3 L299.74,450.31 L300.57,450.31 L301.4,450.31 L302.22,450.31 L303.05,450.31 L303.88,450.31 L304.7,450.31 L305.53,450.32 L306.36,450.32 L307.19,450.32 L308.01,450.32 L308.84,450.32 L309.67,450.32 L310.49,450.32 L311.32,450.32 L312.15,450.32 L312.97,450.32 L313.8,450.32 L314.63,450.32 L315.45,450.32 L316.28,450.32 L317.11,450.32" stroke="#6a8ef5" stroke-width="1.05" fill="none" stroke-linejoin="round"/>
<path d="M217.89,397.63 L218.71,397.87 L219.54,398.14 L220.37,398.44 L221.2,398.77 L222.02,399.14 L222.85,399.55 L223.68,399.99 L224.5,400.49 L225.33,401.03 L226.16,401.63 L226.98,402.28 L227.81,402.99 L228.64,403.77 L229.46,404.61 L230.29,405.52 L231.12,406.5 L231.94,407.55 L232.77,408.67 L233.6,409.87 L234.42,411.13 L235.25,412.46 L236.08,413.85 L236.9,415.29 L237.73,416.79 L238.56,418.32 L239.39,419.89 L240.21,421.49 L241.04,423.09 L241.87,424.7 L242.69,426.3 L243.52,427.88 L244.35,429.43 L245.17,430.94 L246,432.41 L246.83,433.82 L247.65,435.17 L248.48,436.46 L249.31,437.68 L250.13,438.83 L250.96,439.91 L251.79,440.91 L252.61,441.85 L253.44,442.72 L254.27,443.52 L255.1,444.26 L255.92,444.93 L256.75,445.55 L257.58,446.12 L258.4,446.63 L259.23,447.1 L260.06,447.52 L260.88,447.9 L261.71,448.25 L262.54,448.56 L263.36,448.84 L264.19,449.09 L265.02,449.32 L265.84,449.52 L266.67,449.7 L267.5,449.87 L268.32,450.02 L269.15,450.15 L269.98,450.26 L270.8,450.37 L271.63,450.46 L272.46,450.55 L273.29,450.62 L274.11,450.69 L274.94,450.75 L275.77,450.8 L276.59,450.85 L277.42,450.9 L278.25,450.93 L279.07,450.97 L279.9,451 L280.73,451.02 L281.55,451.05 L282.38,451.07 L283.21,451.09 L284.03,451.11 L284.86,451.12 L285.69,451.13 L286.51,451.15 L287.34,451.16 L288.17,451.17 L289,451.18 L289.82,451.18 L290.65,451.19 L291.48,451.2 L292.3,451.2 L293.13,451.21 L293.96,451.21 L294.78,451.21 L295.61,451.22 L296.44,451.22 L297.26,451.22 L298.09,451.23 L298.92,451.23 L299.74,451.23 L300.57,451.23 L301.4,451.23 L302.22,451.23 L303.05,451.24 L303.88,451.24 L304.7,451.24 L305.53,451.24 L306.36,451.24 L307.19,451.24 L308.01,451.24 L308.84,451.24 L309.67,451.24 L310.49,451.24 L311.32,451.24 L312.15,451.24 L312.97,451.24 L313.8,451.24 L314.63,451.24 L315.45,451.24 L316.28,451.24 L317.11,451.24" stroke="#e8552a" stroke-width="1.05" fill="none" stroke-linejoin="round"/>
<circle cx="217.89" cy="395.85" r="1.0" fill="#d9492a"/>
<circle cx="230.29" cy="406.24" r="1.0" fill="#d9492a"/>
<circle cx="242.69" cy="424.13" r="1.0" fill="#d9492a"/>
<circle cx="255.1" cy="445.48" r="1.0" fill="#d9492a"/>
<circle cx="267.5" cy="450.09" r="1.0" fill="#d9492a"/>
<circle cx="279.9" cy="450.67" r="1.0" fill="#d9492a"/>
<circle cx="292.3" cy="450.78" r="1.0" fill="#d9492a"/>
<circle cx="304.7" cy="450.9" r="1.0" fill="#d9492a"/>
<circle cx="317.11" cy="450.96" r="1.0" fill="#d9492a"/>
<text x="346" y="356.4" font-size="11.5" fill="#111" color="#111" font-weight="bold" style="stroke-width:0.35px">F</text>
<text x="399.3" y="362.5" font-size="6.5" fill="#111" color="#111">Normalized Survival</text>
<line x1="368.9" y1="369.47" x2="368.9" y2="452.8" stroke="#161616" stroke-width="1.15"/>
<line x1="366.7" y1="452.8" x2="368.7" y2="452.8" stroke="#161616" stroke-width="0.9"/>
<text x="365.8" y="454.9" font-size="6.0" fill="#111" color="#111" text-anchor="end">0</text>
<line x1="366.7" y1="425.12" x2="368.7" y2="425.12" stroke="#161616" stroke-width="0.9"/>
<text x="365.8" y="427.23" font-size="6.0" fill="#111" color="#111" text-anchor="end">50</text>
<line x1="366.7" y1="397.45" x2="368.7" y2="397.45" stroke="#161616" stroke-width="0.9"/>
<text x="365.8" y="399.55" font-size="6.0" fill="#111" color="#111" text-anchor="end">100</text>
<line x1="366.7" y1="369.77" x2="368.7" y2="369.77" stroke="#161616" stroke-width="0.9"/>
<text x="365.8" y="371.88" font-size="6.0" fill="#111" color="#111" text-anchor="end">150</text>
<line x1="368.7" y1="453.3" x2="486.9" y2="453.3" stroke="#161616" stroke-width="1.15"/>
<line x1="368.7" y1="453.3" x2="368.7" y2="455.1" stroke="#161616" stroke-width="1.15"/>
<line x1="380.56" y1="453.3" x2="380.56" y2="454.6" stroke="#161616" stroke-width="0.9"/>
<line x1="387.5" y1="453.3" x2="387.5" y2="454.6" stroke="#161616" stroke-width="0.9"/>
<line x1="392.42" y1="453.3" x2="392.42" y2="454.6" stroke="#161616" stroke-width="0.9"/>
<line x1="396.24" y1="453.3" x2="396.24" y2="454.6" stroke="#161616" stroke-width="0.9"/>
<line x1="399.36" y1="453.3" x2="399.36" y2="454.6" stroke="#161616" stroke-width="0.9"/>
<line x1="402" y1="453.3" x2="402" y2="454.6" stroke="#161616" stroke-width="0.9"/>
<line x1="404.28" y1="453.3" x2="404.28" y2="454.6" stroke="#161616" stroke-width="0.9"/>
<line x1="406.3" y1="453.3" x2="406.3" y2="454.6" stroke="#161616" stroke-width="0.9"/>
<line x1="408.1" y1="453.3" x2="408.1" y2="455.1" stroke="#161616" stroke-width="1.15"/>
<line x1="419.96" y1="453.3" x2="419.96" y2="454.6" stroke="#161616" stroke-width="0.9"/>
<line x1="426.9" y1="453.3" x2="426.9" y2="454.6" stroke="#161616" stroke-width="0.9"/>
<line x1="431.82" y1="453.3" x2="431.82" y2="454.6" stroke="#161616" stroke-width="0.9"/>
<line x1="435.64" y1="453.3" x2="435.64" y2="454.6" stroke="#161616" stroke-width="0.9"/>
<line x1="438.76" y1="453.3" x2="438.76" y2="454.6" stroke="#161616" stroke-width="0.9"/>
<line x1="441.4" y1="453.3" x2="441.4" y2="454.6" stroke="#161616" stroke-width="0.9"/>
<line x1="443.68" y1="453.3" x2="443.68" y2="454.6" stroke="#161616" stroke-width="0.9"/>
<line x1="445.7" y1="453.3" x2="445.7" y2="454.6" stroke="#161616" stroke-width="0.9"/>
<line x1="447.5" y1="453.3" x2="447.5" y2="455.1" stroke="#161616" stroke-width="1.15"/>
<line x1="459.36" y1="453.3" x2="459.36" y2="454.6" stroke="#161616" stroke-width="0.9"/>
<line x1="466.3" y1="453.3" x2="466.3" y2="454.6" stroke="#161616" stroke-width="0.9"/>
<line x1="471.22" y1="453.3" x2="471.22" y2="454.6" stroke="#161616" stroke-width="0.9"/>
<line x1="475.04" y1="453.3" x2="475.04" y2="454.6" stroke="#161616" stroke-width="0.9"/>
<line x1="478.16" y1="453.3" x2="478.16" y2="454.6" stroke="#161616" stroke-width="0.9"/>
<line x1="480.8" y1="453.3" x2="480.8" y2="454.6" stroke="#161616" stroke-width="0.9"/>
<line x1="483.08" y1="453.3" x2="483.08" y2="454.6" stroke="#161616" stroke-width="0.9"/>
<line x1="485.1" y1="453.3" x2="485.1" y2="454.6" stroke="#161616" stroke-width="0.9"/>
<line x1="486.9" y1="453.3" x2="486.9" y2="455.1" stroke="#161616" stroke-width="1.15"/>
<text x="368.7" y="460.1" font-size="6.1" fill="#111" color="#111" text-anchor="middle">0.1</text>
<text x="408.1" y="460.1" font-size="6.1" fill="#111" color="#111" text-anchor="middle">1</text>
<text x="447.5" y="460.1" font-size="6.1" fill="#111" color="#111" text-anchor="middle">10</text>
<text x="486.9" y="460.1" font-size="6.1" fill="#111" color="#111" text-anchor="middle">100</text>
<text x="428" y="470.6" font-size="6.5" fill="#111" color="#111" text-anchor="middle">FK866 (nmol/L)</text>
<text transform="translate(350.6,411.9) rotate(-90)" font-size="6.1" fill="#111" color="#111" text-anchor="middle">Cell survival (%)</text>
<line x1="441.3" y1="370.8" x2="445.5" y2="370.8" stroke="#e8552a" stroke-width="1.0"/>
<text x="448.5" y="373" font-size="6.5" fill="#111" color="#111">UOK268</text>
<line x1="441.3" y1="377.5" x2="445.5" y2="377.5" stroke="#6a8ef5" stroke-width="1.0"/>
<text x="448.5" y="379.7" font-size="6.5" fill="#111" color="#111">UOK268 + 10 µmol/L NA</text>
<line x1="388.5" y1="396.6" x2="388.5" y2="410" stroke="#1a1a1a" stroke-width="0.8"/>
<line x1="387.4" y1="396.6" x2="389.6" y2="396.6" stroke="#1a1a1a" stroke-width="0.8"/>
<line x1="387.4" y1="410" x2="389.6" y2="410" stroke="#1a1a1a" stroke-width="0.8"/>
<line x1="400.5" y1="384.5" x2="400.5" y2="408.3" stroke="#1a1a1a" stroke-width="0.8"/>
<line x1="399.4" y1="384.5" x2="401.6" y2="384.5" stroke="#1a1a1a" stroke-width="0.8"/>
<line x1="399.4" y1="408.3" x2="401.6" y2="408.3" stroke="#1a1a1a" stroke-width="0.8"/>
<line x1="411.5" y1="388.2" x2="411.5" y2="412.5" stroke="#1a1a1a" stroke-width="0.8"/>
<line x1="410.4" y1="388.2" x2="412.6" y2="388.2" stroke="#1a1a1a" stroke-width="0.8"/>
<line x1="410.4" y1="412.5" x2="412.6" y2="412.5" stroke="#1a1a1a" stroke-width="0.8"/>
<line x1="423.5" y1="388.2" x2="423.5" y2="414.6" stroke="#1a1a1a" stroke-width="0.8"/>
<line x1="422.4" y1="388.2" x2="424.6" y2="388.2" stroke="#1a1a1a" stroke-width="0.8"/>
<line x1="422.4" y1="414.6" x2="424.6" y2="414.6" stroke="#1a1a1a" stroke-width="0.8"/>
<line x1="435.5" y1="394.6" x2="435.5" y2="406.5" stroke="#1a1a1a" stroke-width="0.8"/>
<line x1="434.4" y1="394.6" x2="436.6" y2="394.6" stroke="#1a1a1a" stroke-width="0.8"/>
<line x1="434.4" y1="406.5" x2="436.6" y2="406.5" stroke="#1a1a1a" stroke-width="0.8"/>
<line x1="435.5" y1="411.9" x2="435.5" y2="427.3" stroke="#1a1a1a" stroke-width="0.8"/>
<line x1="434.4" y1="411.9" x2="436.6" y2="411.9" stroke="#1a1a1a" stroke-width="0.8"/>
<line x1="434.4" y1="427.3" x2="436.6" y2="427.3" stroke="#1a1a1a" stroke-width="0.8"/>
<line x1="447.5" y1="395.4" x2="447.5" y2="407.5" stroke="#1a1a1a" stroke-width="0.8"/>
<line x1="446.4" y1="395.4" x2="448.6" y2="395.4" stroke="#1a1a1a" stroke-width="0.8"/>
<line x1="446.4" y1="407.5" x2="448.6" y2="407.5" stroke="#1a1a1a" stroke-width="0.8"/>
<line x1="459.5" y1="385" x2="459.5" y2="412.7" stroke="#1a1a1a" stroke-width="0.8"/>
<line x1="458.4" y1="385" x2="460.6" y2="385" stroke="#1a1a1a" stroke-width="0.8"/>
<line x1="458.4" y1="412.7" x2="460.6" y2="412.7" stroke="#1a1a1a" stroke-width="0.8"/>
<line x1="471.5" y1="388.3" x2="471.5" y2="401.2" stroke="#1a1a1a" stroke-width="0.8"/>
<line x1="470.4" y1="388.3" x2="472.6" y2="388.3" stroke="#1a1a1a" stroke-width="0.8"/>
<line x1="470.4" y1="401.2" x2="472.6" y2="401.2" stroke="#1a1a1a" stroke-width="0.8"/>
<line x1="483.5" y1="396.3" x2="483.5" y2="401.7" stroke="#1a1a1a" stroke-width="0.8"/>
<line x1="482.4" y1="396.3" x2="484.6" y2="396.3" stroke="#1a1a1a" stroke-width="0.8"/>
<line x1="482.4" y1="401.7" x2="484.6" y2="401.7" stroke="#1a1a1a" stroke-width="0.8"/>
<line x1="471.5" y1="442" x2="471.5" y2="447" stroke="#1a1a1a" stroke-width="0.8"/>
<line x1="470.4" y1="442" x2="472.6" y2="442" stroke="#1a1a1a" stroke-width="0.8"/>
<line x1="470.4" y1="447" x2="472.6" y2="447" stroke="#1a1a1a" stroke-width="0.8"/>
<line x1="459.5" y1="439.5" x2="459.5" y2="443.5" stroke="#1a1a1a" stroke-width="0.8"/>
<line x1="458.4" y1="439.5" x2="460.6" y2="439.5" stroke="#1a1a1a" stroke-width="0.8"/>
<line x1="458.4" y1="443.5" x2="460.6" y2="443.5" stroke="#1a1a1a" stroke-width="0.8"/>
<line x1="447.5" y1="433.5" x2="447.5" y2="436.5" stroke="#1a1a1a" stroke-width="0.8"/>
<line x1="446.4" y1="433.5" x2="448.6" y2="433.5" stroke="#1a1a1a" stroke-width="0.8"/>
<line x1="446.4" y1="436.5" x2="448.6" y2="436.5" stroke="#1a1a1a" stroke-width="0.8"/>
<path d="M388.2,405 L389.7,398.8 L483.08,398.8" stroke="#6a8ef5" stroke-width="1.0" fill="none" stroke-linejoin="round"/>
<path d="M388.2,400.58 L388.99,400.6 L389.78,400.62 L390.57,400.64 L391.36,400.66 L392.15,400.69 L392.94,400.72 L393.73,400.74 L394.52,400.78 L395.31,400.81 L396.1,400.85 L396.89,400.89 L397.69,400.94 L398.48,400.99 L399.27,401.04 L400.06,401.1 L400.85,401.16 L401.64,401.23 L402.43,401.3 L403.22,401.38 L404.01,401.47 L404.8,401.56 L405.59,401.67 L406.38,401.78 L407.17,401.9 L407.96,402.03 L408.76,402.17 L409.55,402.33 L410.34,402.49 L411.13,402.68 L411.92,402.87 L412.71,403.08 L413.5,403.31 L414.29,403.55 L415.08,403.81 L415.87,404.1 L416.66,404.4 L417.45,404.73 L418.24,405.08 L419.03,405.45 L419.83,405.85 L420.62,406.28 L421.41,406.74 L422.2,407.23 L422.99,407.74 L423.78,408.29 L424.57,408.87 L425.36,409.48 L426.15,410.13 L426.94,410.8 L427.73,411.51 L428.52,412.25 L429.31,413.03 L430.1,413.83 L430.9,414.67 L431.69,415.53 L432.48,416.42 L433.27,417.33 L434.06,418.26 L434.85,419.21 L435.64,420.18 L436.43,421.16 L437.22,422.14 L438.01,423.13 L438.8,424.13 L439.59,425.12 L440.38,426.1 L441.17,427.08 L441.97,428.04 L442.76,428.99 L443.55,429.91 L444.34,430.82 L445.13,431.7 L445.92,432.55 L446.71,433.38 L447.5,434.17 L448.29,434.94 L449.08,435.67 L449.87,436.37 L450.66,437.04 L451.45,437.68 L452.24,438.28 L453.03,438.85 L453.83,439.39 L454.62,439.9 L455.41,440.37 L456.2,440.82 L456.99,441.24 L457.78,441.64 L458.57,442.01 L459.36,442.35 L460.15,442.67 L460.94,442.97 L461.73,443.25 L462.52,443.5 L463.31,443.74 L464.1,443.96 L464.9,444.17 L465.69,444.36 L466.48,444.54 L467.27,444.7 L468.06,444.85 L468.85,444.99 L469.64,445.12 L470.43,445.24 L471.22,445.35 L472.01,445.45 L472.8,445.54 L473.59,445.63 L474.38,445.7 L475.17,445.78 L475.97,445.84 L476.76,445.9 L477.55,445.96 L478.34,446.01 L479.13,446.06 L479.92,446.11 L480.71,446.15 L481.5,446.18 L482.29,446.22 L483.08,446.25" stroke="#e8552a" stroke-width="1.1" fill="none" stroke-linejoin="round"/>
<circle cx="388.2" cy="400.22" r="1.0" fill="#d9492a"/>
<circle cx="400.06" cy="401.32" r="1.0" fill="#d9492a"/>
<circle cx="411.92" cy="403.54" r="1.0" fill="#d9492a"/>
<circle cx="423.78" cy="408.19" r="1.0" fill="#d9492a"/>
<circle cx="435.64" cy="419.65" r="1.0" fill="#d9492a"/>
<circle cx="447.5" cy="435.09" r="1.0" fill="#d9492a"/>
<circle cx="459.36" cy="441.62" r="1.0" fill="#d9492a"/>
<circle cx="471.22" cy="444.72" r="1.0" fill="#d9492a"/>
<circle cx="483.08" cy="446.99" r="1.0" fill="#d9492a"/>
<text x="0.7" y="493.7" font-size="12.2" fill="#111" color="#111" font-weight="bold" style="stroke-width:0.35px">G</text>
<text x="46.9" y="489.9" font-size="6.5" fill="#111" color="#111">NCCFH1 NAD<tspan font-size="4" dy="-3">+</tspan><tspan dy="3"> Quantification</tspan></text>
<line x1="40.7" y1="508.2" x2="40.7" y2="599.4" stroke="#161616" stroke-width="1.15"/>
<line x1="38.1" y1="599.4" x2="40.7" y2="599.4" stroke="#161616" stroke-width="0.9"/>
<text x="36.4" y="601.6" font-size="6.3" fill="#111" color="#111" text-anchor="end">0</text>
<line x1="38.1" y1="569" x2="40.7" y2="569" stroke="#161616" stroke-width="0.9"/>
<text x="36.4" y="571.2" font-size="6.3" fill="#111" color="#111" text-anchor="end">5,000</text>
<line x1="38.1" y1="538.8" x2="40.7" y2="538.8" stroke="#161616" stroke-width="0.9"/>
<text x="36.4" y="541" font-size="6.3" fill="#111" color="#111" text-anchor="end">10,000</text>
<line x1="38.1" y1="508.5" x2="40.7" y2="508.5" stroke="#161616" stroke-width="0.9"/>
<text x="36.4" y="510.7" font-size="6.3" fill="#111" color="#111" text-anchor="end">15,000</text>
<rect x="51.2" y="538.3" width="19.6" height="61.1" fill="#ff9d0a" stroke="#222" stroke-width="0.9"/>
<rect x="81.5" y="583.1" width="19.75" height="16.3" fill="#e25a2a" stroke="#222" stroke-width="0.9"/>
<rect x="111.9" y="582.25" width="19.35" height="17.15" fill="#6a8af5" stroke="#222" stroke-width="0.9"/>
<line x1="61.5" y1="525.4" x2="61.5" y2="551" stroke="#555" stroke-width="0.8"/>
<line x1="56.75" y1="525.4" x2="66.25" y2="525.4" stroke="#555" stroke-width="0.8"/>
<line x1="56.75" y1="551" x2="66.25" y2="551" stroke="#555" stroke-width="0.8"/>
<line x1="91.5" y1="580.25" x2="91.5" y2="586" stroke="#555" stroke-width="0.8"/>
<line x1="86.75" y1="580.25" x2="96.25" y2="580.25" stroke="#555" stroke-width="0.8"/>
<line x1="86.75" y1="586" x2="96.25" y2="586" stroke="#555" stroke-width="0.8"/>
<line x1="121.5" y1="578.75" x2="121.5" y2="584.75" stroke="#555" stroke-width="0.8"/>
<line x1="116.75" y1="578.75" x2="126.25" y2="578.75" stroke="#555" stroke-width="0.8"/>
<line x1="116.75" y1="584.75" x2="126.25" y2="584.75" stroke="#555" stroke-width="0.8"/>
<line x1="40.7" y1="599.4" x2="141" y2="599.4" stroke="#161616" stroke-width="1.2"/>
<line x1="61.1" y1="599.4" x2="61.1" y2="602" stroke="#161616" stroke-width="0.9"/>
<line x1="91.4" y1="599.4" x2="91.4" y2="602" stroke="#161616" stroke-width="0.9"/>
<line x1="121.5" y1="599.4" x2="121.5" y2="602" stroke="#161616" stroke-width="0.9"/>
<text x="61.1" y="608.8" font-size="6.5" fill="#111" color="#111" text-anchor="middle">Control</text>
<text x="91.4" y="608.8" font-size="6.5" fill="#111" color="#111" text-anchor="middle">FK866</text>
<text x="121.6" y="608.8" font-size="6.5" fill="#111" color="#111" text-anchor="middle">FK866 + NA</text>
<text x="91.5" y="619.4" font-size="6.4" fill="#111" color="#111" text-anchor="middle">Treatment</text>
<text transform="translate(12.2,554) rotate(-90)" font-size="6.5" fill="#111" color="#111" text-anchor="middle">NAD<tspan font-size="3.4" dy="1.4">total</tspan><tspan dy="-1.4"> (pmol/5 × 10</tspan><tspan font-size="3.4" dy="-2.2">5</tspan><tspan dy="2.2"> cells)</tspan></text>
<path d="M61.2,512.3 L61.2,502.4 L121.3,502.4 L121.3,512.3" stroke="#4a4a4a" stroke-width="1.0" fill="none" stroke-linejoin="miter"/>
<path d="M61.2,520.4 L61.2,516.5 L89.75,516.5 L89.75,575.6" stroke="#4a4a4a" stroke-width="1.0" fill="none" stroke-linejoin="miter"/>
<path d="M92.6,575.6 L92.6,516.5 L121.3,516.5 L121.3,574.4" stroke="#4a4a4a" stroke-width="1.0" fill="none" stroke-linejoin="miter"/>
<circle cx="87.2" cy="497.8" r="0.95" fill="#1a1a1a"/>
<circle cx="90" cy="497.8" r="0.95" fill="#1a1a1a"/>
<circle cx="92.8" cy="497.8" r="0.95" fill="#1a1a1a"/>
<circle cx="95.6" cy="497.8" r="0.95" fill="#1a1a1a"/>
<circle cx="70.8" cy="511.9" r="0.95" fill="#1a1a1a"/>
<circle cx="73.6" cy="511.9" r="0.95" fill="#1a1a1a"/>
<circle cx="76.4" cy="511.9" r="0.95" fill="#1a1a1a"/>
<circle cx="79.2" cy="511.9" r="0.95" fill="#1a1a1a"/>
<text x="107.5" y="513.6" font-size="6.4" fill="#111" color="#111" text-anchor="middle">ns</text>
<text x="175.6" y="493.7" font-size="12.2" fill="#111" color="#111" font-weight="bold" style="stroke-width:0.35px">H</text>
<text x="215" y="489.9" font-size="6.5" fill="#111" color="#111">UOK262 NAD<tspan font-size="4" dy="-3">+</tspan><tspan dy="3"> Quantification</tspan></text>
<line x1="209.8" y1="514.2" x2="209.8" y2="600.8" stroke="#161616" stroke-width="1.15"/>
<line x1="207.2" y1="600.8" x2="209.8" y2="600.8" stroke="#161616" stroke-width="0.9"/>
<text x="205.5" y="603" font-size="6.3" fill="#111" color="#111" text-anchor="end">0</text>
<line x1="207.2" y1="572" x2="209.8" y2="572" stroke="#161616" stroke-width="0.9"/>
<text x="205.5" y="574.2" font-size="6.3" fill="#111" color="#111" text-anchor="end">2,000</text>
<line x1="207.2" y1="543.4" x2="209.8" y2="543.4" stroke="#161616" stroke-width="0.9"/>
<text x="205.5" y="545.6" font-size="6.3" fill="#111" color="#111" text-anchor="end">4,000</text>
<line x1="207.2" y1="514.5" x2="209.8" y2="514.5" stroke="#161616" stroke-width="0.9"/>
<text x="205.5" y="516.7" font-size="6.3" fill="#111" color="#111" text-anchor="end">6,000</text>
<rect x="219.3" y="536.2" width="19.4" height="64.6" fill="#ff9d0a" stroke="#222" stroke-width="0.9"/>
<rect x="248" y="592.2" width="19.5" height="8.6" fill="#e25a2a" stroke="#222" stroke-width="0.9"/>
<rect x="277.2" y="590.5" width="19.3" height="10.3" fill="#6a8af5" stroke="#222" stroke-width="0.9"/>
<line x1="229.5" y1="528.6" x2="229.5" y2="543.7" stroke="#555" stroke-width="0.8"/>
<line x1="224.75" y1="528.6" x2="234.25" y2="528.6" stroke="#555" stroke-width="0.8"/>
<line x1="224.75" y1="543.7" x2="234.25" y2="543.7" stroke="#555" stroke-width="0.8"/>
<line x1="257.5" y1="588.1" x2="257.5" y2="594.9" stroke="#555" stroke-width="0.8"/>
<line x1="252.75" y1="588.1" x2="262.25" y2="588.1" stroke="#555" stroke-width="0.8"/>
<line x1="252.75" y1="594.9" x2="262.25" y2="594.9" stroke="#555" stroke-width="0.8"/>
<line x1="286.5" y1="585.4" x2="286.5" y2="594" stroke="#555" stroke-width="0.8"/>
<line x1="281.75" y1="585.4" x2="291.25" y2="585.4" stroke="#555" stroke-width="0.8"/>
<line x1="281.75" y1="594" x2="291.25" y2="594" stroke="#555" stroke-width="0.8"/>
<line x1="209.8" y1="600.8" x2="306" y2="600.8" stroke="#161616" stroke-width="1.2"/>
<line x1="229" y1="600.8" x2="229" y2="603.4" stroke="#161616" stroke-width="0.9"/>
<line x1="257.8" y1="600.8" x2="257.8" y2="603.4" stroke="#161616" stroke-width="0.9"/>
<line x1="286.9" y1="600.8" x2="286.9" y2="603.4" stroke="#161616" stroke-width="0.9"/>
<text x="229.4" y="610.2" font-size="6.5" fill="#111" color="#111" text-anchor="middle">Control</text>
<text x="257.8" y="610.2" font-size="6.5" fill="#111" color="#111" text-anchor="middle">FK866</text>
<text x="287.5" y="610.2" font-size="6.5" fill="#111" color="#111" text-anchor="middle">FK866 + NA</text>
<text x="258.2" y="619.4" font-size="6.4" fill="#111" color="#111" text-anchor="middle">Treatment</text>
<text transform="translate(182.2,557.5) rotate(-90)" font-size="6.5" fill="#111" color="#111" text-anchor="middle">NAD<tspan font-size="3.4" dy="1.4">total</tspan><tspan dy="-1.4"> (pmol/5 × 10</tspan><tspan font-size="3.4" dy="-2.2">5</tspan><tspan dy="2.2"> cells)</tspan></text>
<path d="M228.9,511.2 L228.9,502.6 L286.6,502.6 L286.6,511.2" stroke="#4a4a4a" stroke-width="1.0" fill="none" stroke-linejoin="miter"/>
<path d="M228.9,521.6 L228.9,517 L256.7,517 L256.7,582" stroke="#4a4a4a" stroke-width="1.0" fill="none" stroke-linejoin="miter"/>
<path d="M259.4,582 L259.4,517 L286.6,517 L286.6,583.3" stroke="#4a4a4a" stroke-width="1.0" fill="none" stroke-linejoin="miter"/>
<circle cx="253.5" cy="497.8" r="0.95" fill="#1a1a1a"/>
<circle cx="256.3" cy="497.8" r="0.95" fill="#1a1a1a"/>
<circle cx="259.1" cy="497.8" r="0.95" fill="#1a1a1a"/>
<circle cx="261.9" cy="497.8" r="0.95" fill="#1a1a1a"/>
<circle cx="238.15" cy="511.8" r="0.95" fill="#1a1a1a"/>
<circle cx="240.95" cy="511.8" r="0.95" fill="#1a1a1a"/>
<circle cx="243.75" cy="511.8" r="0.95" fill="#1a1a1a"/>
<circle cx="246.55" cy="511.8" r="0.95" fill="#1a1a1a"/>
<text x="273.2" y="514.2" font-size="6.4" fill="#111" color="#111" text-anchor="middle">ns</text>
<text x="347.6" y="493.7" font-size="12.2" fill="#111" color="#111" font-weight="bold" style="stroke-width:0.35px">I</text>
<text x="383.9" y="489.9" font-size="6.5" fill="#111" color="#111">UOK268 NAD<tspan font-size="4" dy="-3">+</tspan><tspan dy="3"> Quantification</tspan></text>
<line x1="377.9" y1="515.7" x2="377.9" y2="600.9" stroke="#161616" stroke-width="1.15"/>
<line x1="375.3" y1="600.9" x2="377.9" y2="600.9" stroke="#161616" stroke-width="0.9"/>
<text x="373.6" y="603.1" font-size="6.3" fill="#111" color="#111" text-anchor="end">0</text>
<line x1="375.3" y1="579.8" x2="377.9" y2="579.8" stroke="#161616" stroke-width="0.9"/>
<text x="373.6" y="582" font-size="6.3" fill="#111" color="#111" text-anchor="end">2,000</text>
<line x1="375.3" y1="558.2" x2="377.9" y2="558.2" stroke="#161616" stroke-width="0.9"/>
<text x="373.6" y="560.4" font-size="6.3" fill="#111" color="#111" text-anchor="end">4,000</text>
<line x1="375.3" y1="537" x2="377.9" y2="537" stroke="#161616" stroke-width="0.9"/>
<text x="373.6" y="539.2" font-size="6.3" fill="#111" color="#111" text-anchor="end">6,000</text>
<line x1="375.3" y1="516" x2="377.9" y2="516" stroke="#161616" stroke-width="0.9"/>
<text x="373.6" y="518.2" font-size="6.3" fill="#111" color="#111" text-anchor="end">8,000</text>
<rect x="389" y="532.1" width="18.4" height="68.8" fill="#ff9d0a" stroke="#222" stroke-width="0.9"/>
<rect x="417.6" y="579.9" width="18.6" height="21" fill="#e25a2a" stroke="#222" stroke-width="0.9"/>
<rect x="446.4" y="532.1" width="18.4" height="68.8" fill="#6a8af5" stroke="#222" stroke-width="0.9"/>
<line x1="397.5" y1="527.3" x2="397.5" y2="536.7" stroke="#555" stroke-width="0.8"/>
<line x1="392.75" y1="527.3" x2="402.25" y2="527.3" stroke="#555" stroke-width="0.8"/>
<line x1="392.75" y1="536.7" x2="402.25" y2="536.7" stroke="#555" stroke-width="0.8"/>
<line x1="426.5" y1="577.2" x2="426.5" y2="581.1" stroke="#555" stroke-width="0.8"/>
<line x1="421.75" y1="577.2" x2="431.25" y2="577.2" stroke="#555" stroke-width="0.8"/>
<line x1="421.75" y1="581.1" x2="431.25" y2="581.1" stroke="#555" stroke-width="0.8"/>
<line x1="455.5" y1="528.6" x2="455.5" y2="535.3" stroke="#555" stroke-width="0.8"/>
<line x1="450.75" y1="528.6" x2="460.25" y2="528.6" stroke="#555" stroke-width="0.8"/>
<line x1="450.75" y1="535.3" x2="460.25" y2="535.3" stroke="#555" stroke-width="0.8"/>
<line x1="377.9" y1="600.9" x2="475" y2="600.9" stroke="#161616" stroke-width="1.2"/>
<line x1="397.9" y1="600.9" x2="397.9" y2="603.5" stroke="#161616" stroke-width="0.9"/>
<line x1="426.9" y1="600.9" x2="426.9" y2="603.5" stroke="#161616" stroke-width="0.9"/>
<line x1="455.2" y1="600.9" x2="455.2" y2="603.5" stroke="#161616" stroke-width="0.9"/>
<text x="399" y="610.3" font-size="6.5" fill="#111" color="#111" text-anchor="middle">Control</text>
<text x="426.9" y="610.3" font-size="6.5" fill="#111" color="#111" text-anchor="middle">FK866</text>
<text x="455.5" y="610.3" font-size="6.5" fill="#111" color="#111" text-anchor="middle">FK866 + NA</text>
<text x="427.2" y="619.4" font-size="6.4" fill="#111" color="#111" text-anchor="middle">Treatment</text>
<text transform="translate(353.8,559.4) rotate(-90)" font-size="6.5" fill="#111" color="#111" text-anchor="middle">NAD<tspan font-size="3.4" dy="1.4">total</tspan><tspan dy="-1.4"> (pmol/5 × 10</tspan><tspan font-size="3.4" dy="-2.2">5</tspan><tspan dy="2.2"> cells)</tspan></text>
<path d="M397.7,512.3 L397.7,503.1 L455.5,503.1 L455.5,512.3" stroke="#4a4a4a" stroke-width="1.0" fill="none" stroke-linejoin="miter"/>
<path d="M397.7,520.4 L397.7,516.5 L425.3,516.5 L425.3,573.5" stroke="#4a4a4a" stroke-width="1.0" fill="none" stroke-linejoin="miter"/>
<path d="M428.3,573.5 L428.3,516.5 L455.5,516.5 L455.5,521.6" stroke="#4a4a4a" stroke-width="1.0" fill="none" stroke-linejoin="miter"/>
<text x="427" y="500.2" font-size="6.4" fill="#111" color="#111" text-anchor="middle">ns</text>
<circle cx="407.4" cy="512.7" r="0.95" fill="#1a1a1a"/>
<circle cx="410.2" cy="512.7" r="0.95" fill="#1a1a1a"/>
<circle cx="413" cy="512.7" r="0.95" fill="#1a1a1a"/>
<circle cx="415.8" cy="512.7" r="0.95" fill="#1a1a1a"/>
<circle cx="437.4" cy="512.7" r="0.95" fill="#1a1a1a"/>
<circle cx="440.2" cy="512.7" r="0.95" fill="#1a1a1a"/>
<circle cx="443" cy="512.7" r="0.95" fill="#1a1a1a"/>
<circle cx="445.8" cy="512.7" r="0.95" fill="#1a1a1a"/>
</svg></body></html>
